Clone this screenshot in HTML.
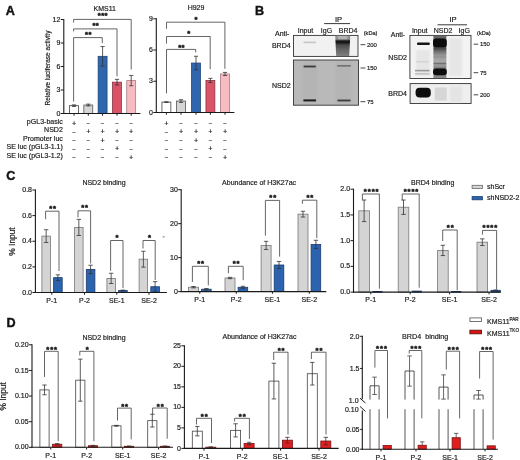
<!DOCTYPE html><html><head><meta charset="utf-8"><style>html,body{margin:0;padding:0;background:#fff;overflow:hidden;}svg{display:block;} text{stroke:#1a1a1a;stroke-width:0.18px;} text.L{stroke-width:0.45px;} text.S{stroke-width:0.5px;}</style></head><body>
<svg width="520" height="460" viewBox="0 0 520 460" font-family='"Liberation Sans", Arial, Helvetica, sans-serif'>
<rect width="520" height="460" fill="#fff"/>
<text x="5.8" y="14.7" font-size="12.6" font-weight="bold" fill="#111" class="L">A</text>
<text x="254.9" y="14.9" font-size="12.6" font-weight="bold" fill="#111" class="L">B</text>
<text x="6.2" y="179.9" font-size="12.6" font-weight="bold" fill="#111" class="L">C</text>
<text x="6.4" y="326.7" font-size="12.6" font-weight="bold" fill="#111" class="L">D</text>
<line x1="63.8" y1="114" x2="63.8" y2="19" stroke="#1a1a1a" stroke-width="1.1"/>
<line x1="60.8" y1="113.5" x2="63.8" y2="113.5" stroke="#1a1a1a" stroke-width="1.0"/>
<text x="60.4" y="115.6" font-size="7" text-anchor="end" fill="#1a1a1a">0</text>
<line x1="60.8" y1="90" x2="63.8" y2="90" stroke="#1a1a1a" stroke-width="1.0"/>
<text x="60.4" y="92.1" font-size="7" text-anchor="end" fill="#1a1a1a">3</text>
<line x1="60.8" y1="66.5" x2="63.8" y2="66.5" stroke="#1a1a1a" stroke-width="1.0"/>
<text x="60.4" y="68.6" font-size="7" text-anchor="end" fill="#1a1a1a">6</text>
<line x1="60.8" y1="43" x2="63.8" y2="43" stroke="#1a1a1a" stroke-width="1.0"/>
<text x="60.4" y="45.1" font-size="7" text-anchor="end" fill="#1a1a1a">9</text>
<line x1="60.8" y1="19.5" x2="63.8" y2="19.5" stroke="#1a1a1a" stroke-width="1.0"/>
<text x="60.4" y="21.6" font-size="7" text-anchor="end" fill="#1a1a1a">12</text>
<rect x="69.55" y="105.67" width="8.9" height="7.83" fill="#ffffff" stroke="#444" stroke-width="0.8"/>
<line x1="74" y1="104.88" x2="74" y2="106.45" stroke="#333" stroke-width="0.8"/>
<line x1="71.9" y1="104.88" x2="76.1" y2="104.88" stroke="#333" stroke-width="0.8"/>
<line x1="71.9" y1="106.45" x2="76.1" y2="106.45" stroke="#333" stroke-width="0.8"/>
<rect x="83.85" y="105.04" width="8.9" height="8.46" fill="#d6d6d6" stroke="#555" stroke-width="0.8"/>
<line x1="88.3" y1="104.1" x2="88.3" y2="105.98" stroke="#333" stroke-width="0.8"/>
<line x1="86.2" y1="104.1" x2="90.4" y2="104.1" stroke="#333" stroke-width="0.8"/>
<line x1="86.2" y1="105.98" x2="90.4" y2="105.98" stroke="#333" stroke-width="0.8"/>
<rect x="98.15" y="56.32" width="8.9" height="57.18" fill="#2f66ae" stroke="#1d4478" stroke-width="0.8"/>
<line x1="102.6" y1="46.52" x2="102.6" y2="66.11" stroke="#333" stroke-width="0.8"/>
<line x1="100.5" y1="46.52" x2="104.7" y2="46.52" stroke="#333" stroke-width="0.8"/>
<line x1="100.5" y1="66.11" x2="104.7" y2="66.11" stroke="#333" stroke-width="0.8"/>
<rect x="112.55" y="82.17" width="8.9" height="31.33" fill="#da5467" stroke="#8c3342" stroke-width="0.8"/>
<line x1="117" y1="79.35" x2="117" y2="84.99" stroke="#333" stroke-width="0.8"/>
<line x1="114.9" y1="79.35" x2="119.1" y2="79.35" stroke="#333" stroke-width="0.8"/>
<line x1="114.9" y1="84.99" x2="119.1" y2="84.99" stroke="#333" stroke-width="0.8"/>
<rect x="126.75" y="80.6" width="8.9" height="32.9" fill="#f7bcc2" stroke="#a87a80" stroke-width="0.8"/>
<line x1="131.2" y1="75.43" x2="131.2" y2="85.77" stroke="#333" stroke-width="0.8"/>
<line x1="129.1" y1="75.43" x2="133.3" y2="75.43" stroke="#333" stroke-width="0.8"/>
<line x1="129.1" y1="85.77" x2="133.3" y2="85.77" stroke="#333" stroke-width="0.8"/>
<line x1="63.25" y1="113.5" x2="140.4" y2="113.5" stroke="#1a1a1a" stroke-width="1.1"/>
<line x1="74" y1="113.5" x2="74" y2="115.7" stroke="#1a1a1a" stroke-width="1.0"/>
<line x1="88.3" y1="113.5" x2="88.3" y2="115.7" stroke="#1a1a1a" stroke-width="1.0"/>
<line x1="102.6" y1="113.5" x2="102.6" y2="115.7" stroke="#1a1a1a" stroke-width="1.0"/>
<line x1="117" y1="113.5" x2="117" y2="115.7" stroke="#1a1a1a" stroke-width="1.0"/>
<line x1="131.2" y1="113.5" x2="131.2" y2="115.7" stroke="#1a1a1a" stroke-width="1.0"/>
<text x="104.8" y="11" font-size="7" text-anchor="middle" fill="#1a1a1a">KMS11</text>
<polyline points="73.6,22.6 73.6,19.4 131.2,19.4 131.2,69.5" fill="none" stroke="#4a4a4a" stroke-width="0.85"/>
<text x="102.92" y="18.3" font-size="7.6" text-anchor="middle" font-weight="bold" fill="#1a1a1a" letter-spacing="0.45" class="S">***</text>
<polyline points="73.6,31.4 73.6,28.9 117,28.9 117,76.3" fill="none" stroke="#4a4a4a" stroke-width="0.85"/>
<text x="95.82" y="28.1" font-size="7.6" text-anchor="middle" font-weight="bold" fill="#1a1a1a" letter-spacing="0.45" class="S">**</text>
<polyline points="73.6,101.5 73.6,37.6 102.3,37.6 102.3,43.2" fill="none" stroke="#4a4a4a" stroke-width="0.85"/>
<text x="88.47" y="37.3" font-size="7.6" text-anchor="middle" font-weight="bold" fill="#1a1a1a" letter-spacing="0.45" class="S">**</text>
<line x1="156.3" y1="113" x2="156.3" y2="18.3" stroke="#1a1a1a" stroke-width="1.1"/>
<line x1="153.3" y1="112.5" x2="156.3" y2="112.5" stroke="#1a1a1a" stroke-width="1.0"/>
<text x="152.9" y="114.6" font-size="7" text-anchor="end" fill="#1a1a1a">0</text>
<line x1="153.3" y1="81.27" x2="156.3" y2="81.27" stroke="#1a1a1a" stroke-width="1.0"/>
<text x="152.9" y="83.37" font-size="7" text-anchor="end" fill="#1a1a1a">3</text>
<line x1="153.3" y1="50.03" x2="156.3" y2="50.03" stroke="#1a1a1a" stroke-width="1.0"/>
<text x="152.9" y="52.13" font-size="7" text-anchor="end" fill="#1a1a1a">6</text>
<line x1="153.3" y1="18.8" x2="156.3" y2="18.8" stroke="#1a1a1a" stroke-width="1.0"/>
<text x="152.9" y="20.9" font-size="7" text-anchor="end" fill="#1a1a1a">9</text>
<rect x="161.95" y="102.09" width="8.9" height="10.41" fill="#ffffff" stroke="#444" stroke-width="0.8"/>
<line x1="166.4" y1="101.78" x2="166.4" y2="102.4" stroke="#333" stroke-width="0.8"/>
<line x1="164.3" y1="101.78" x2="168.5" y2="101.78" stroke="#333" stroke-width="0.8"/>
<line x1="164.3" y1="102.4" x2="168.5" y2="102.4" stroke="#333" stroke-width="0.8"/>
<rect x="176.55" y="101.05" width="8.9" height="11.45" fill="#d6d6d6" stroke="#555" stroke-width="0.8"/>
<line x1="181" y1="99.69" x2="181" y2="102.4" stroke="#333" stroke-width="0.8"/>
<line x1="178.9" y1="99.69" x2="183.1" y2="99.69" stroke="#333" stroke-width="0.8"/>
<line x1="178.9" y1="102.4" x2="183.1" y2="102.4" stroke="#333" stroke-width="0.8"/>
<rect x="191.55" y="63.05" width="8.9" height="49.45" fill="#2f66ae" stroke="#1d4478" stroke-width="0.8"/>
<line x1="196" y1="56.28" x2="196" y2="69.81" stroke="#333" stroke-width="0.8"/>
<line x1="193.9" y1="56.28" x2="198.1" y2="56.28" stroke="#333" stroke-width="0.8"/>
<line x1="193.9" y1="69.81" x2="198.1" y2="69.81" stroke="#333" stroke-width="0.8"/>
<rect x="205.95" y="80.43" width="8.9" height="32.07" fill="#da5467" stroke="#8c3342" stroke-width="0.8"/>
<line x1="210.4" y1="78.35" x2="210.4" y2="82.52" stroke="#333" stroke-width="0.8"/>
<line x1="208.3" y1="78.35" x2="212.5" y2="78.35" stroke="#333" stroke-width="0.8"/>
<line x1="208.3" y1="82.52" x2="212.5" y2="82.52" stroke="#333" stroke-width="0.8"/>
<rect x="220.55" y="73.98" width="8.9" height="38.52" fill="#f7bcc2" stroke="#a87a80" stroke-width="0.8"/>
<line x1="225" y1="72.42" x2="225" y2="75.54" stroke="#333" stroke-width="0.8"/>
<line x1="222.9" y1="72.42" x2="227.1" y2="72.42" stroke="#333" stroke-width="0.8"/>
<line x1="222.9" y1="75.54" x2="227.1" y2="75.54" stroke="#333" stroke-width="0.8"/>
<line x1="155.75" y1="112.5" x2="234.4" y2="112.5" stroke="#1a1a1a" stroke-width="1.1"/>
<line x1="166.4" y1="112.5" x2="166.4" y2="114.7" stroke="#1a1a1a" stroke-width="1.0"/>
<line x1="181" y1="112.5" x2="181" y2="114.7" stroke="#1a1a1a" stroke-width="1.0"/>
<line x1="196" y1="112.5" x2="196" y2="114.7" stroke="#1a1a1a" stroke-width="1.0"/>
<line x1="210.4" y1="112.5" x2="210.4" y2="114.7" stroke="#1a1a1a" stroke-width="1.0"/>
<line x1="225" y1="112.5" x2="225" y2="114.7" stroke="#1a1a1a" stroke-width="1.0"/>
<text x="196" y="10.2" font-size="7" text-anchor="middle" fill="#1a1a1a">H929</text>
<polyline points="166.5,28.8 166.5,22.2 224.9,22.2 224.9,68.8" fill="none" stroke="#4a4a4a" stroke-width="0.85"/>
<text x="196.22" y="22.1" font-size="7.6" text-anchor="middle" font-weight="bold" fill="#1a1a1a" letter-spacing="0.45" class="S">*</text>
<polyline points="166.5,43.6 166.5,36.5 210.2,36.5 210.2,69.2" fill="none" stroke="#4a4a4a" stroke-width="0.85"/>
<text x="188.88" y="36" font-size="7.6" text-anchor="middle" font-weight="bold" fill="#1a1a1a" letter-spacing="0.45" class="S">*</text>
<polyline points="166.5,93.3 166.5,49.4 195.7,49.4 195.7,52.4" fill="none" stroke="#4a4a4a" stroke-width="0.85"/>
<text x="181.62" y="50.1" font-size="7.6" text-anchor="middle" font-weight="bold" fill="#1a1a1a" letter-spacing="0.45" class="S">**</text>
<text x="47.6" y="68" font-size="6.5" text-anchor="middle" fill="#1a1a1a" transform="rotate(-90 47.6 68.0)" dy="2.3">Relative luciferase activity</text>
<text x="62.9" y="124" font-size="7.05" text-anchor="end" fill="#1a1a1a">pGL3-basic</text>
<text x="74" y="125.75" font-size="7.2" text-anchor="middle" fill="#1a1a1a">+</text>
<text x="88.3" y="125.4" font-size="6.0" text-anchor="middle" fill="#1a1a1a">&#8722;</text>
<text x="102.6" y="125.4" font-size="6.0" text-anchor="middle" fill="#1a1a1a">&#8722;</text>
<text x="117" y="125.4" font-size="6.0" text-anchor="middle" fill="#1a1a1a">&#8722;</text>
<text x="131.2" y="125.4" font-size="6.0" text-anchor="middle" fill="#1a1a1a">&#8722;</text>
<text x="166.4" y="125.75" font-size="7.2" text-anchor="middle" fill="#1a1a1a">+</text>
<text x="181" y="125.4" font-size="6.0" text-anchor="middle" fill="#1a1a1a">&#8722;</text>
<text x="196" y="125.4" font-size="6.0" text-anchor="middle" fill="#1a1a1a">&#8722;</text>
<text x="210.4" y="125.4" font-size="6.0" text-anchor="middle" fill="#1a1a1a">&#8722;</text>
<text x="225" y="125.4" font-size="6.0" text-anchor="middle" fill="#1a1a1a">&#8722;</text>
<text x="62.9" y="132.45" font-size="7.05" text-anchor="end" fill="#1a1a1a">NSD2</text>
<text x="74" y="133.85" font-size="6.0" text-anchor="middle" fill="#1a1a1a">&#8722;</text>
<text x="88.3" y="134.2" font-size="7.2" text-anchor="middle" fill="#1a1a1a">+</text>
<text x="102.6" y="134.2" font-size="7.2" text-anchor="middle" fill="#1a1a1a">+</text>
<text x="117" y="134.2" font-size="7.2" text-anchor="middle" fill="#1a1a1a">+</text>
<text x="131.2" y="134.2" font-size="7.2" text-anchor="middle" fill="#1a1a1a">+</text>
<text x="166.4" y="133.85" font-size="6.0" text-anchor="middle" fill="#1a1a1a">&#8722;</text>
<text x="181" y="134.2" font-size="7.2" text-anchor="middle" fill="#1a1a1a">+</text>
<text x="196" y="134.2" font-size="7.2" text-anchor="middle" fill="#1a1a1a">+</text>
<text x="210.4" y="134.2" font-size="7.2" text-anchor="middle" fill="#1a1a1a">+</text>
<text x="225" y="134.2" font-size="7.2" text-anchor="middle" fill="#1a1a1a">+</text>
<text x="62.9" y="140.9" font-size="7.05" text-anchor="end" fill="#1a1a1a">Promoter luc</text>
<text x="74" y="142.3" font-size="6.0" text-anchor="middle" fill="#1a1a1a">&#8722;</text>
<text x="88.3" y="142.3" font-size="6.0" text-anchor="middle" fill="#1a1a1a">&#8722;</text>
<text x="102.6" y="142.65" font-size="7.2" text-anchor="middle" fill="#1a1a1a">+</text>
<text x="117" y="142.3" font-size="6.0" text-anchor="middle" fill="#1a1a1a">&#8722;</text>
<text x="131.2" y="142.3" font-size="6.0" text-anchor="middle" fill="#1a1a1a">&#8722;</text>
<text x="166.4" y="142.3" font-size="6.0" text-anchor="middle" fill="#1a1a1a">&#8722;</text>
<text x="181" y="142.3" font-size="6.0" text-anchor="middle" fill="#1a1a1a">&#8722;</text>
<text x="196" y="142.65" font-size="7.2" text-anchor="middle" fill="#1a1a1a">+</text>
<text x="210.4" y="142.3" font-size="6.0" text-anchor="middle" fill="#1a1a1a">&#8722;</text>
<text x="225" y="142.3" font-size="6.0" text-anchor="middle" fill="#1a1a1a">&#8722;</text>
<text x="62.9" y="149.35" font-size="7.05" text-anchor="end" fill="#1a1a1a">SE luc (pGL3-1.1)</text>
<text x="74" y="150.75" font-size="6.0" text-anchor="middle" fill="#1a1a1a">&#8722;</text>
<text x="88.3" y="150.75" font-size="6.0" text-anchor="middle" fill="#1a1a1a">&#8722;</text>
<text x="102.6" y="150.75" font-size="6.0" text-anchor="middle" fill="#1a1a1a">&#8722;</text>
<text x="117" y="151.1" font-size="7.2" text-anchor="middle" fill="#1a1a1a">+</text>
<text x="131.2" y="150.75" font-size="6.0" text-anchor="middle" fill="#1a1a1a">&#8722;</text>
<text x="166.4" y="150.75" font-size="6.0" text-anchor="middle" fill="#1a1a1a">&#8722;</text>
<text x="181" y="150.75" font-size="6.0" text-anchor="middle" fill="#1a1a1a">&#8722;</text>
<text x="196" y="150.75" font-size="6.0" text-anchor="middle" fill="#1a1a1a">&#8722;</text>
<text x="210.4" y="151.1" font-size="7.2" text-anchor="middle" fill="#1a1a1a">+</text>
<text x="225" y="150.75" font-size="6.0" text-anchor="middle" fill="#1a1a1a">&#8722;</text>
<text x="62.9" y="157.8" font-size="7.05" text-anchor="end" fill="#1a1a1a">SE luc (pGL3-1.2)</text>
<text x="74" y="159.2" font-size="6.0" text-anchor="middle" fill="#1a1a1a">&#8722;</text>
<text x="88.3" y="159.2" font-size="6.0" text-anchor="middle" fill="#1a1a1a">&#8722;</text>
<text x="102.6" y="159.2" font-size="6.0" text-anchor="middle" fill="#1a1a1a">&#8722;</text>
<text x="117" y="159.2" font-size="6.0" text-anchor="middle" fill="#1a1a1a">&#8722;</text>
<text x="131.2" y="159.55" font-size="7.2" text-anchor="middle" fill="#1a1a1a">+</text>
<text x="166.4" y="159.2" font-size="6.0" text-anchor="middle" fill="#1a1a1a">&#8722;</text>
<text x="181" y="159.2" font-size="6.0" text-anchor="middle" fill="#1a1a1a">&#8722;</text>
<text x="196" y="159.2" font-size="6.0" text-anchor="middle" fill="#1a1a1a">&#8722;</text>
<text x="210.4" y="159.2" font-size="6.0" text-anchor="middle" fill="#1a1a1a">&#8722;</text>
<text x="225" y="159.55" font-size="7.2" text-anchor="middle" fill="#1a1a1a">+</text>
<defs>
<filter id="bl1" x="-50%" y="-50%" width="200%" height="200%"><feGaussianBlur stdDeviation="0.7"/></filter>
<filter id="bl2" x="-50%" y="-50%" width="200%" height="200%"><feGaussianBlur stdDeviation="1.2"/></filter>
<filter id="bl05" x="-50%" y="-50%" width="200%" height="200%"><feGaussianBlur stdDeviation="0.45"/></filter>
<linearGradient id="smearL" x1="0" y1="0" x2="0" y2="1"><stop offset="0" stop-color="#9a9a9a"/><stop offset="0.17" stop-color="#8a8a8a"/><stop offset="0.26" stop-color="#141414"/><stop offset="0.34" stop-color="#1a1a1a"/><stop offset="0.45" stop-color="#4a4a4a"/><stop offset="0.7" stop-color="#676767"/><stop offset="1" stop-color="#7e7e7e"/></linearGradient>
<linearGradient id="smearR" x1="0" y1="0" x2="0" y2="1"><stop offset="0" stop-color="#8a8a8a"/><stop offset="0.12" stop-color="#444"/><stop offset="0.2" stop-color="#111"/><stop offset="0.3" stop-color="#333"/><stop offset="0.4" stop-color="#888"/><stop offset="0.6" stop-color="#999"/><stop offset="0.7" stop-color="#666"/><stop offset="0.78" stop-color="#222"/><stop offset="0.9" stop-color="#111"/><stop offset="1" stop-color="#888"/></linearGradient>
</defs>
<text x="282.2" y="36.0" font-size="7" fill="#1a1a1a" text-anchor="middle">Anti-</text>
<text x="281.3" y="47.9" font-size="7" fill="#1a1a1a" text-anchor="middle">BRD4</text>
<text x="281.3" y="88.3" font-size="7" fill="#1a1a1a" text-anchor="middle">NSD2</text>
<text x="305.5" y="32.6" font-size="7" fill="#1a1a1a" text-anchor="middle">Input</text>
<text x="326.5" y="32.6" font-size="7" fill="#1a1a1a" text-anchor="middle">IgG</text>
<text x="348.2" y="32.6" font-size="7" fill="#1a1a1a" text-anchor="middle">BRD4</text>
<text x="338.5" y="21.5" font-size="7.6" fill="#1a1a1a" text-anchor="middle">IP</text>
<line x1="324.1" y1="23.6" x2="350.1" y2="23.6" stroke="#222" stroke-width="0.9"/>
<text x="370.6" y="34.9" font-size="5.6" fill="#1a1a1a" text-anchor="middle">(kDa)</text>
<rect x="293.5" y="35.4" width="64.5" height="21.0" fill="#f1f1f1" stroke="#333" stroke-width="0.9"/>
<rect x="303.5" y="41.6" width="12.5" height="1.6" fill="#c4c4c4" filter="url(#bl05)"/>
<path d="M335.2,35.8 L350.3,35.8 L349.2,56.0 L336.2,56.0 Z" fill="url(#smearL)" filter="url(#bl05)"/>
<rect x="338.2" y="36.0" width="9" height="3.2" fill="#bdbdbd" filter="url(#bl05)" opacity="0.8"/>
<rect x="293.5" y="60.0" width="65.0" height="45.2" fill="#b9b9b9" stroke="#333" stroke-width="0.9"/>
<rect x="302" y="62" width="15" height="41" fill="#b0b0b0" filter="url(#bl2)" opacity="0.5"/>
<rect x="336" y="62" width="15" height="41" fill="#b0b0b0" filter="url(#bl2)" opacity="0.5"/>
<rect x="303.6" y="65.6" width="12.2" height="1.8" fill="#3a3a3a" filter="url(#bl05)"/>
<rect x="337.2" y="65.0" width="13.6" height="1.6" fill="#707070" filter="url(#bl05)"/>
<rect x="303.4" y="99.4" width="12.6" height="2.0" fill="#1e1e1e" filter="url(#bl05)"/>
<rect x="337.4" y="99.6" width="13.2" height="1.8" fill="#3a3a3a" filter="url(#bl05)"/>
<line x1="360.5" y1="44.7" x2="365.4" y2="44.7" stroke="#333" stroke-width="0.9"/>
<text x="366.9" y="46.800000000000004" font-size="6" fill="#1a1a1a">200</text>
<line x1="360.5" y1="68.0" x2="365.4" y2="68.0" stroke="#333" stroke-width="0.9"/>
<text x="366.9" y="70.1" font-size="6" fill="#1a1a1a">150</text>
<line x1="360.5" y1="101.7" x2="365.4" y2="101.7" stroke="#333" stroke-width="0.9"/>
<text x="366.9" y="103.8" font-size="6" fill="#1a1a1a">75</text>
<text x="398.0" y="37.2" font-size="7" fill="#1a1a1a" text-anchor="middle">Anti-</text>
<text x="397.5" y="59.8" font-size="7" fill="#1a1a1a" text-anchor="middle">NSD2</text>
<text x="397.7" y="95.8" font-size="7" fill="#1a1a1a" text-anchor="middle">BRD4</text>
<text x="419.7" y="32.8" font-size="7" fill="#1a1a1a" text-anchor="middle">Input</text>
<text x="443.0" y="32.8" font-size="7" fill="#1a1a1a" text-anchor="middle">NSD2</text>
<text x="464.2" y="32.8" font-size="7" fill="#1a1a1a" text-anchor="middle">IgG</text>
<text x="453.0" y="22.3" font-size="7.6" fill="#1a1a1a" text-anchor="middle">IP</text>
<line x1="437.5" y1="24.8" x2="467.1" y2="24.8" stroke="#222" stroke-width="0.9"/>
<text x="483.9" y="35.2" font-size="5.6" fill="#1a1a1a" text-anchor="middle">(kDa)</text>
<rect x="409.9" y="35.4" width="61.1" height="43.1" fill="#f3f3f3" stroke="#333" stroke-width="0.9"/>
<rect x="449" y="38" width="13" height="38" fill="#e6e6e6" filter="url(#bl2)"/>
<rect x="416" y="50" width="14" height="26" fill="#e6e6e6" filter="url(#bl2)"/>
<rect x="417.0" y="42.5" width="12.8" height="2.6" rx="1" fill="#151515" filter="url(#bl05)"/>
<rect x="415.0" y="69.8" width="14.6" height="1.6" fill="#9a9a9a" filter="url(#bl05)"/>
<rect x="415.0" y="73.2" width="14.6" height="1.4" fill="#bdbdbd" filter="url(#bl05)"/>
<rect x="416.0" y="61.2" width="13" height="1.2" fill="#d0d0d0" filter="url(#bl05)"/>
<linearGradient id="laneN" x1="0" y1="0" x2="0" y2="1"><stop offset="0" stop-color="#6a6a6a"/><stop offset="0.3" stop-color="#4a4a4a"/><stop offset="0.42" stop-color="#8a8a8a"/><stop offset="0.5" stop-color="#a0a0a0"/><stop offset="0.62" stop-color="#a8a8a8"/><stop offset="0.655" stop-color="#707070"/><stop offset="0.69" stop-color="#a0a0a0"/><stop offset="0.78" stop-color="#777"/><stop offset="1" stop-color="#8a8a8a"/></linearGradient>
<rect x="433.4" y="36.0" width="13.0" height="42.0" fill="url(#laneN)" filter="url(#bl05)"/>
<rect x="433.6" y="52.5" width="12.6" height="1.0" fill="#808080" filter="url(#bl05)"/>
<rect x="433.6" y="56.5" width="12.6" height="1.0" fill="#8a8a8a" filter="url(#bl05)"/>
<rect x="433.0" y="38.4" width="13.8" height="8.8" rx="3.2" fill="#0c0c0c" filter="url(#bl05)"/>
<rect x="433.0" y="68.6" width="13.8" height="6.6" rx="3" fill="#0c0c0c" filter="url(#bl05)"/>
<rect x="410.1" y="83.6" width="61.0" height="19.9" fill="#efefef" stroke="#333" stroke-width="0.9"/>
<rect x="434.8" y="87.5" width="12" height="13" fill="#d6d6d6" filter="url(#bl1)"/>
<rect x="450" y="86" width="12" height="16" fill="#e4e4e4" filter="url(#bl2)"/>
<rect x="415.6" y="87.8" width="15.2" height="9.6" rx="4" fill="#0c0c0c" filter="url(#bl05)"/>
<line x1="473.6" y1="44.2" x2="478.2" y2="44.2" stroke="#333" stroke-width="0.9"/>
<text x="479.9" y="46.300000000000004" font-size="6" fill="#1a1a1a">150</text>
<line x1="473.6" y1="72.7" x2="478.2" y2="72.7" stroke="#333" stroke-width="0.9"/>
<text x="479.9" y="74.8" font-size="6" fill="#1a1a1a">75</text>
<line x1="473.6" y1="94.8" x2="478.2" y2="94.8" stroke="#333" stroke-width="0.9"/>
<text x="479.9" y="96.89999999999999" font-size="6" fill="#1a1a1a">200</text>
<line x1="35.4" y1="293" x2="35.4" y2="189.5" stroke="#1a1a1a" stroke-width="1.1"/>
<line x1="32.4" y1="292.5" x2="35.4" y2="292.5" stroke="#1a1a1a" stroke-width="1.0"/>
<text x="32" y="294.6" font-size="7" text-anchor="end" fill="#1a1a1a">0.0</text>
<line x1="32.4" y1="266.88" x2="35.4" y2="266.88" stroke="#1a1a1a" stroke-width="1.0"/>
<text x="32" y="268.98" font-size="7" text-anchor="end" fill="#1a1a1a">0.2</text>
<line x1="32.4" y1="241.25" x2="35.4" y2="241.25" stroke="#1a1a1a" stroke-width="1.0"/>
<text x="32" y="243.35" font-size="7" text-anchor="end" fill="#1a1a1a">0.4</text>
<line x1="32.4" y1="215.62" x2="35.4" y2="215.62" stroke="#1a1a1a" stroke-width="1.0"/>
<text x="32" y="217.72" font-size="7" text-anchor="end" fill="#1a1a1a">0.6</text>
<line x1="32.4" y1="190" x2="35.4" y2="190" stroke="#1a1a1a" stroke-width="1.0"/>
<text x="32" y="192.1" font-size="7" text-anchor="end" fill="#1a1a1a">0.8</text>
<rect x="41.9" y="236.12" width="8.5" height="56.38" fill="#d4d4d4" stroke="#777" stroke-width="0.8"/>
<line x1="46.15" y1="229.72" x2="46.15" y2="242.53" stroke="#333" stroke-width="0.8"/>
<line x1="43.95" y1="229.72" x2="48.35" y2="229.72" stroke="#333" stroke-width="0.8"/>
<line x1="43.95" y1="242.53" x2="48.35" y2="242.53" stroke="#333" stroke-width="0.8"/>
<rect x="53.6" y="277.64" width="8.6" height="14.86" fill="#2c63ae" stroke="#173a6c" stroke-width="0.8"/>
<line x1="57.9" y1="274.82" x2="57.9" y2="280.46" stroke="#333" stroke-width="0.8"/>
<line x1="55.7" y1="274.82" x2="60.1" y2="274.82" stroke="#333" stroke-width="0.8"/>
<line x1="55.7" y1="280.46" x2="60.1" y2="280.46" stroke="#333" stroke-width="0.8"/>
<rect x="74.6" y="227.41" width="8.5" height="65.09" fill="#d4d4d4" stroke="#777" stroke-width="0.8"/>
<line x1="78.85" y1="219.34" x2="78.85" y2="235.48" stroke="#333" stroke-width="0.8"/>
<line x1="76.65" y1="219.34" x2="81.05" y2="219.34" stroke="#333" stroke-width="0.8"/>
<line x1="76.65" y1="235.48" x2="81.05" y2="235.48" stroke="#333" stroke-width="0.8"/>
<rect x="86.3" y="269.44" width="8.6" height="23.06" fill="#2c63ae" stroke="#173a6c" stroke-width="0.8"/>
<line x1="90.6" y1="265.21" x2="90.6" y2="273.67" stroke="#333" stroke-width="0.8"/>
<line x1="88.4" y1="265.21" x2="92.8" y2="265.21" stroke="#333" stroke-width="0.8"/>
<line x1="88.4" y1="273.67" x2="92.8" y2="273.67" stroke="#333" stroke-width="0.8"/>
<rect x="106.9" y="278.41" width="8.5" height="14.09" fill="#d4d4d4" stroke="#777" stroke-width="0.8"/>
<line x1="111.15" y1="273.28" x2="111.15" y2="283.53" stroke="#333" stroke-width="0.8"/>
<line x1="108.95" y1="273.28" x2="113.35" y2="273.28" stroke="#333" stroke-width="0.8"/>
<line x1="108.95" y1="283.53" x2="113.35" y2="283.53" stroke="#333" stroke-width="0.8"/>
<rect x="118.6" y="290.58" width="8.6" height="1.92" fill="#2c63ae" stroke="#173a6c" stroke-width="0.8"/>
<line x1="122.9" y1="290.07" x2="122.9" y2="291.09" stroke="#333" stroke-width="0.8"/>
<line x1="120.7" y1="290.07" x2="125.1" y2="290.07" stroke="#333" stroke-width="0.8"/>
<line x1="120.7" y1="291.09" x2="125.1" y2="291.09" stroke="#333" stroke-width="0.8"/>
<rect x="139.1" y="259.19" width="8.5" height="33.31" fill="#d4d4d4" stroke="#777" stroke-width="0.8"/>
<line x1="143.35" y1="251.24" x2="143.35" y2="267.13" stroke="#333" stroke-width="0.8"/>
<line x1="141.15" y1="251.24" x2="145.55" y2="251.24" stroke="#333" stroke-width="0.8"/>
<line x1="141.15" y1="267.13" x2="145.55" y2="267.13" stroke="#333" stroke-width="0.8"/>
<rect x="150.8" y="286.73" width="8.6" height="5.77" fill="#2c63ae" stroke="#173a6c" stroke-width="0.8"/>
<line x1="155.1" y1="281.61" x2="155.1" y2="291.86" stroke="#333" stroke-width="0.8"/>
<line x1="152.9" y1="281.61" x2="157.3" y2="281.61" stroke="#333" stroke-width="0.8"/>
<line x1="152.9" y1="291.86" x2="157.3" y2="291.86" stroke="#333" stroke-width="0.8"/>
<line x1="34.85" y1="292.5" x2="166.9" y2="292.5" stroke="#1a1a1a" stroke-width="1.1"/>
<line x1="51.8" y1="292.5" x2="51.8" y2="294.7" stroke="#1a1a1a" stroke-width="1.0"/>
<line x1="84.5" y1="292.5" x2="84.5" y2="294.7" stroke="#1a1a1a" stroke-width="1.0"/>
<line x1="116.8" y1="292.5" x2="116.8" y2="294.7" stroke="#1a1a1a" stroke-width="1.0"/>
<line x1="149" y1="292.5" x2="149" y2="294.7" stroke="#1a1a1a" stroke-width="1.0"/>
<text x="51.8" y="302.8" font-size="7" text-anchor="middle" fill="#1a1a1a">P-1</text>
<text x="84.5" y="302.8" font-size="7" text-anchor="middle" fill="#1a1a1a">P-2</text>
<text x="116.8" y="302.8" font-size="7" text-anchor="middle" fill="#1a1a1a">SE-1</text>
<text x="149" y="302.8" font-size="7" text-anchor="middle" fill="#1a1a1a">SE-2</text>
<text x="104" y="185.4" font-size="7" text-anchor="middle" fill="#1a1a1a">NSD2 binding</text>
<polyline points="45.6,219.2 45.6,211.2 59,211.2 59,271" fill="none" stroke="#4a4a4a" stroke-width="0.85"/>
<text x="53.07" y="210.7" font-size="7.6" text-anchor="middle" font-weight="bold" fill="#1a1a1a" letter-spacing="0.95" class="S">**</text>
<polyline points="78,217.3 78,210.8 90.6,210.8 90.6,263.5" fill="none" stroke="#4a4a4a" stroke-width="0.85"/>
<text x="85.07" y="210.3" font-size="7.6" text-anchor="middle" font-weight="bold" fill="#1a1a1a" letter-spacing="0.95" class="S">**</text>
<polyline points="110.6,270.8 110.6,240.5 123,240.5 123,288" fill="none" stroke="#4a4a4a" stroke-width="0.85"/>
<text x="117.57" y="240" font-size="7.6" text-anchor="middle" font-weight="bold" fill="#1a1a1a" letter-spacing="0.95" class="S">*</text>
<polyline points="143,248.5 143,240.5 155.2,240.5 155.2,280" fill="none" stroke="#4a4a4a" stroke-width="0.85"/>
<text x="149.88" y="240" font-size="7.6" text-anchor="middle" font-weight="bold" fill="#1a1a1a" letter-spacing="0.95" class="S">*</text>
<text x="11.7" y="241.5" font-size="8.4" text-anchor="middle" fill="#1a1a1a" transform="rotate(-90 11.7 241.5)" dy="2.9">% Input</text>
<line x1="162.8" y1="236.9" x2="164.6" y2="236.9" stroke="#444" stroke-width="0.8"/>
<line x1="181.2" y1="292.1" x2="181.2" y2="189.2" stroke="#1a1a1a" stroke-width="1.1"/>
<line x1="178.2" y1="291.6" x2="181.2" y2="291.6" stroke="#1a1a1a" stroke-width="1.0"/>
<text x="177.8" y="293.7" font-size="7" text-anchor="end" fill="#1a1a1a">0</text>
<line x1="178.2" y1="257.63" x2="181.2" y2="257.63" stroke="#1a1a1a" stroke-width="1.0"/>
<text x="177.8" y="259.73" font-size="7" text-anchor="end" fill="#1a1a1a">10</text>
<line x1="178.2" y1="223.67" x2="181.2" y2="223.67" stroke="#1a1a1a" stroke-width="1.0"/>
<text x="177.8" y="225.77" font-size="7" text-anchor="end" fill="#1a1a1a">20</text>
<line x1="178.2" y1="189.7" x2="181.2" y2="189.7" stroke="#1a1a1a" stroke-width="1.0"/>
<text x="177.8" y="191.8" font-size="7" text-anchor="end" fill="#1a1a1a">30</text>
<rect x="188.5" y="287.18" width="10" height="4.42" fill="#d4d4d4" stroke="#777" stroke-width="0.8"/>
<line x1="193.5" y1="286.5" x2="193.5" y2="287.86" stroke="#333" stroke-width="0.8"/>
<line x1="191.3" y1="286.5" x2="195.7" y2="286.5" stroke="#333" stroke-width="0.8"/>
<line x1="191.3" y1="287.86" x2="195.7" y2="287.86" stroke="#333" stroke-width="0.8"/>
<rect x="201.6" y="289.22" width="9.6" height="2.38" fill="#2c63ae" stroke="#173a6c" stroke-width="0.8"/>
<line x1="206.4" y1="288.54" x2="206.4" y2="289.9" stroke="#333" stroke-width="0.8"/>
<line x1="204.2" y1="288.54" x2="208.6" y2="288.54" stroke="#333" stroke-width="0.8"/>
<line x1="204.2" y1="289.9" x2="208.6" y2="289.9" stroke="#333" stroke-width="0.8"/>
<rect x="225" y="278.01" width="10" height="13.59" fill="#d4d4d4" stroke="#777" stroke-width="0.8"/>
<line x1="230" y1="277.33" x2="230" y2="278.69" stroke="#333" stroke-width="0.8"/>
<line x1="227.8" y1="277.33" x2="232.2" y2="277.33" stroke="#333" stroke-width="0.8"/>
<line x1="227.8" y1="278.69" x2="232.2" y2="278.69" stroke="#333" stroke-width="0.8"/>
<rect x="238.1" y="287.29" width="9.6" height="4.31" fill="#2c63ae" stroke="#173a6c" stroke-width="0.8"/>
<line x1="242.9" y1="286.27" x2="242.9" y2="288.31" stroke="#333" stroke-width="0.8"/>
<line x1="240.7" y1="286.27" x2="245.1" y2="286.27" stroke="#333" stroke-width="0.8"/>
<line x1="240.7" y1="288.31" x2="245.1" y2="288.31" stroke="#333" stroke-width="0.8"/>
<rect x="261.1" y="245.41" width="10" height="46.19" fill="#d4d4d4" stroke="#777" stroke-width="0.8"/>
<line x1="266.1" y1="241.33" x2="266.1" y2="249.48" stroke="#333" stroke-width="0.8"/>
<line x1="263.9" y1="241.33" x2="268.3" y2="241.33" stroke="#333" stroke-width="0.8"/>
<line x1="263.9" y1="249.48" x2="268.3" y2="249.48" stroke="#333" stroke-width="0.8"/>
<rect x="274.2" y="265" width="9.6" height="26.6" fill="#2c63ae" stroke="#173a6c" stroke-width="0.8"/>
<line x1="279" y1="261.44" x2="279" y2="268.57" stroke="#333" stroke-width="0.8"/>
<line x1="276.8" y1="261.44" x2="281.2" y2="261.44" stroke="#333" stroke-width="0.8"/>
<line x1="276.8" y1="268.57" x2="281.2" y2="268.57" stroke="#333" stroke-width="0.8"/>
<rect x="298" y="214.16" width="10" height="77.44" fill="#d4d4d4" stroke="#777" stroke-width="0.8"/>
<line x1="303" y1="211.27" x2="303" y2="217.04" stroke="#333" stroke-width="0.8"/>
<line x1="300.8" y1="211.27" x2="305.2" y2="211.27" stroke="#333" stroke-width="0.8"/>
<line x1="300.8" y1="217.04" x2="305.2" y2="217.04" stroke="#333" stroke-width="0.8"/>
<rect x="311.1" y="244.39" width="9.6" height="47.21" fill="#2c63ae" stroke="#173a6c" stroke-width="0.8"/>
<line x1="315.9" y1="240.31" x2="315.9" y2="248.46" stroke="#333" stroke-width="0.8"/>
<line x1="313.7" y1="240.31" x2="318.1" y2="240.31" stroke="#333" stroke-width="0.8"/>
<line x1="313.7" y1="248.46" x2="318.1" y2="248.46" stroke="#333" stroke-width="0.8"/>
<line x1="180.65" y1="291.6" x2="326.3" y2="291.6" stroke="#1a1a1a" stroke-width="1.1"/>
<line x1="199.8" y1="291.6" x2="199.8" y2="293.8" stroke="#1a1a1a" stroke-width="1.0"/>
<line x1="236.3" y1="291.6" x2="236.3" y2="293.8" stroke="#1a1a1a" stroke-width="1.0"/>
<line x1="272.4" y1="291.6" x2="272.4" y2="293.8" stroke="#1a1a1a" stroke-width="1.0"/>
<line x1="309.3" y1="291.6" x2="309.3" y2="293.8" stroke="#1a1a1a" stroke-width="1.0"/>
<text x="199.8" y="301.9" font-size="7" text-anchor="middle" fill="#1a1a1a">P-1</text>
<text x="236.3" y="301.9" font-size="7" text-anchor="middle" fill="#1a1a1a">P-2</text>
<text x="272.4" y="301.9" font-size="7" text-anchor="middle" fill="#1a1a1a">SE-1</text>
<text x="309.3" y="301.9" font-size="7" text-anchor="middle" fill="#1a1a1a">SE-2</text>
<text x="259.1" y="185.4" font-size="7" text-anchor="middle" fill="#1a1a1a">Abundance of H3K27ac</text>
<polyline points="192.4,282 192.4,266.3 208.3,266.3 208.3,285.4" fill="none" stroke="#4a4a4a" stroke-width="0.85"/>
<text x="201.13" y="265.8" font-size="7.6" text-anchor="middle" font-weight="bold" fill="#1a1a1a" letter-spacing="0.95" class="S">**</text>
<polyline points="228.4,273.3 228.4,266.3 243.2,266.3 243.2,280.2" fill="none" stroke="#4a4a4a" stroke-width="0.85"/>
<text x="236.58" y="265.8" font-size="7.6" text-anchor="middle" font-weight="bold" fill="#1a1a1a" letter-spacing="0.95" class="S">**</text>
<polyline points="265.4,235.6 265.4,200.4 279.6,200.4 279.6,256.6" fill="none" stroke="#4a4a4a" stroke-width="0.85"/>
<text x="273.28" y="199.9" font-size="7.6" text-anchor="middle" font-weight="bold" fill="#1a1a1a" letter-spacing="0.95" class="S">**</text>
<polyline points="302.4,203.7 302.4,200.2 316.8,200.2 316.8,238.2" fill="none" stroke="#4a4a4a" stroke-width="0.85"/>
<text x="310.38" y="199.7" font-size="7.6" text-anchor="middle" font-weight="bold" fill="#1a1a1a" letter-spacing="0.95" class="S">**</text>
<line x1="353.5" y1="292.6" x2="353.5" y2="188.7" stroke="#1a1a1a" stroke-width="1.1"/>
<line x1="350.5" y1="292.1" x2="353.5" y2="292.1" stroke="#1a1a1a" stroke-width="1.0"/>
<text x="350.1" y="294.2" font-size="7" text-anchor="end" fill="#1a1a1a">0.0</text>
<line x1="350.5" y1="266.38" x2="353.5" y2="266.38" stroke="#1a1a1a" stroke-width="1.0"/>
<text x="350.1" y="268.48" font-size="7" text-anchor="end" fill="#1a1a1a">0.5</text>
<line x1="350.5" y1="240.65" x2="353.5" y2="240.65" stroke="#1a1a1a" stroke-width="1.0"/>
<text x="350.1" y="242.75" font-size="7" text-anchor="end" fill="#1a1a1a">1.0</text>
<line x1="350.5" y1="214.93" x2="353.5" y2="214.93" stroke="#1a1a1a" stroke-width="1.0"/>
<text x="350.1" y="217.03" font-size="7" text-anchor="end" fill="#1a1a1a">1.5</text>
<line x1="350.5" y1="189.2" x2="353.5" y2="189.2" stroke="#1a1a1a" stroke-width="1.0"/>
<text x="350.1" y="191.3" font-size="7" text-anchor="end" fill="#1a1a1a">2.0</text>
<rect x="358.8" y="210.81" width="10.6" height="81.29" fill="#d4d4d4" stroke="#777" stroke-width="0.8"/>
<line x1="364.1" y1="200" x2="364.1" y2="221.61" stroke="#333" stroke-width="0.8"/>
<line x1="361.9" y1="200" x2="366.3" y2="200" stroke="#333" stroke-width="0.8"/>
<line x1="361.9" y1="221.61" x2="366.3" y2="221.61" stroke="#333" stroke-width="0.8"/>
<rect x="372.8" y="291.48" width="9.3" height="0.62" fill="#2c63ae" stroke="#173a6c" stroke-width="0.8"/>
<rect x="398.2" y="207.21" width="10.6" height="84.89" fill="#d4d4d4" stroke="#777" stroke-width="0.8"/>
<line x1="403.5" y1="200" x2="403.5" y2="214.41" stroke="#333" stroke-width="0.8"/>
<line x1="401.3" y1="200" x2="405.7" y2="200" stroke="#333" stroke-width="0.8"/>
<line x1="401.3" y1="214.41" x2="405.7" y2="214.41" stroke="#333" stroke-width="0.8"/>
<rect x="412.2" y="291.07" width="9.3" height="1.03" fill="#2c63ae" stroke="#173a6c" stroke-width="0.8"/>
<rect x="437.6" y="250.43" width="10.6" height="41.67" fill="#d4d4d4" stroke="#777" stroke-width="0.8"/>
<line x1="442.9" y1="245.28" x2="442.9" y2="255.57" stroke="#333" stroke-width="0.8"/>
<line x1="440.7" y1="245.28" x2="445.1" y2="245.28" stroke="#333" stroke-width="0.8"/>
<line x1="440.7" y1="255.57" x2="445.1" y2="255.57" stroke="#333" stroke-width="0.8"/>
<rect x="451.6" y="291.48" width="9.3" height="0.62" fill="#2c63ae" stroke="#173a6c" stroke-width="0.8"/>
<rect x="477" y="242.19" width="10.6" height="49.91" fill="#d4d4d4" stroke="#777" stroke-width="0.8"/>
<line x1="482.3" y1="238.85" x2="482.3" y2="245.54" stroke="#333" stroke-width="0.8"/>
<line x1="480.1" y1="238.85" x2="484.5" y2="238.85" stroke="#333" stroke-width="0.8"/>
<line x1="480.1" y1="245.54" x2="484.5" y2="245.54" stroke="#333" stroke-width="0.8"/>
<rect x="491" y="290.3" width="9.3" height="1.8" fill="#2c63ae" stroke="#173a6c" stroke-width="0.8"/>
<line x1="495.65" y1="290.04" x2="495.65" y2="290.56" stroke="#333" stroke-width="0.8"/>
<line x1="493.45" y1="290.04" x2="497.85" y2="290.04" stroke="#333" stroke-width="0.8"/>
<line x1="493.45" y1="290.56" x2="497.85" y2="290.56" stroke="#333" stroke-width="0.8"/>
<line x1="352.95" y1="292.1" x2="500.8" y2="292.1" stroke="#1a1a1a" stroke-width="1.1"/>
<line x1="370.8" y1="292.1" x2="370.8" y2="294.3" stroke="#1a1a1a" stroke-width="1.0"/>
<line x1="410.2" y1="292.1" x2="410.2" y2="294.3" stroke="#1a1a1a" stroke-width="1.0"/>
<line x1="449.6" y1="292.1" x2="449.6" y2="294.3" stroke="#1a1a1a" stroke-width="1.0"/>
<line x1="489" y1="292.1" x2="489" y2="294.3" stroke="#1a1a1a" stroke-width="1.0"/>
<text x="370.8" y="302.4" font-size="7" text-anchor="middle" fill="#1a1a1a">P-1</text>
<text x="410.2" y="302.4" font-size="7" text-anchor="middle" fill="#1a1a1a">P-2</text>
<text x="449.6" y="302.4" font-size="7" text-anchor="middle" fill="#1a1a1a">SE-1</text>
<text x="489" y="302.4" font-size="7" text-anchor="middle" fill="#1a1a1a">SE-2</text>
<text x="432.7" y="185.4" font-size="7" text-anchor="middle" fill="#1a1a1a">BRD4 binding</text>
<polyline points="362.4,199.8 362.4,194 379.4,194 379.4,288.7" fill="none" stroke="#4a4a4a" stroke-width="0.85"/>
<text x="371.68" y="193.5" font-size="7.6" text-anchor="middle" font-weight="bold" fill="#1a1a1a" letter-spacing="0.95" class="S">****</text>
<polyline points="402.2,200.2 402.2,194 419.2,194 419.2,287.7" fill="none" stroke="#4a4a4a" stroke-width="0.85"/>
<text x="411.48" y="193.5" font-size="7.6" text-anchor="middle" font-weight="bold" fill="#1a1a1a" letter-spacing="0.95" class="S">****</text>
<polyline points="442.7,241 442.7,230 457.2,230 457.2,290.3" fill="none" stroke="#4a4a4a" stroke-width="0.85"/>
<text x="450.73" y="229.5" font-size="7.6" text-anchor="middle" font-weight="bold" fill="#1a1a1a" letter-spacing="0.95" class="S">**</text>
<polyline points="482.5,234.6 482.5,230.4 496.6,230.4 496.6,289.5" fill="none" stroke="#4a4a4a" stroke-width="0.85"/>
<text x="490.33" y="229.9" font-size="7.6" text-anchor="middle" font-weight="bold" fill="#1a1a1a" letter-spacing="0.95" class="S">****</text>
<rect x="472.1" y="185.3" width="10.4" height="3.2" fill="#d4d4d4" stroke="#666" stroke-width="0.8"/>
<rect x="472.1" y="196.6" width="10.4" height="3.2" fill="#2c63aa" stroke="#1b3f70" stroke-width="0.8"/>
<text x="487" y="188.6" font-size="7" fill="#1a1a1a">shScr</text>
<text x="487" y="199.9" font-size="7" fill="#1a1a1a">shNSD2-2</text>
<line x1="32" y1="447.8" x2="32" y2="344.3" stroke="#1a1a1a" stroke-width="1.1"/>
<line x1="29" y1="447.3" x2="32" y2="447.3" stroke="#1a1a1a" stroke-width="1.0"/>
<text x="28.6" y="449.4" font-size="7" text-anchor="end" fill="#1a1a1a">0.00</text>
<line x1="29" y1="421.68" x2="32" y2="421.68" stroke="#1a1a1a" stroke-width="1.0"/>
<text x="28.6" y="423.78" font-size="7" text-anchor="end" fill="#1a1a1a">0.05</text>
<line x1="29" y1="396.05" x2="32" y2="396.05" stroke="#1a1a1a" stroke-width="1.0"/>
<text x="28.6" y="398.15" font-size="7" text-anchor="end" fill="#1a1a1a">0.10</text>
<line x1="29" y1="370.43" x2="32" y2="370.43" stroke="#1a1a1a" stroke-width="1.0"/>
<text x="28.6" y="372.53" font-size="7" text-anchor="end" fill="#1a1a1a">0.15</text>
<line x1="29" y1="344.8" x2="32" y2="344.8" stroke="#1a1a1a" stroke-width="1.0"/>
<text x="28.6" y="346.9" font-size="7" text-anchor="end" fill="#1a1a1a">0.20</text>
<rect x="39.9" y="389.9" width="9.2" height="57.4" fill="#ffffff" stroke="#444" stroke-width="0.8"/>
<line x1="44.5" y1="385.03" x2="44.5" y2="394.77" stroke="#333" stroke-width="0.8"/>
<line x1="42.3" y1="385.03" x2="46.7" y2="385.03" stroke="#333" stroke-width="0.8"/>
<line x1="42.3" y1="394.77" x2="46.7" y2="394.77" stroke="#333" stroke-width="0.8"/>
<rect x="52.6" y="444.23" width="9.2" height="3.07" fill="#e01e1e" stroke="#7a1010" stroke-width="0.8"/>
<line x1="57.2" y1="443.61" x2="57.2" y2="444.84" stroke="#333" stroke-width="0.8"/>
<line x1="55" y1="443.61" x2="59.4" y2="443.61" stroke="#333" stroke-width="0.8"/>
<line x1="55" y1="444.84" x2="59.4" y2="444.84" stroke="#333" stroke-width="0.8"/>
<rect x="75.7" y="380.16" width="9.2" height="67.14" fill="#ffffff" stroke="#444" stroke-width="0.8"/>
<line x1="80.3" y1="359.15" x2="80.3" y2="401.18" stroke="#333" stroke-width="0.8"/>
<line x1="78.1" y1="359.15" x2="82.5" y2="359.15" stroke="#333" stroke-width="0.8"/>
<line x1="78.1" y1="401.18" x2="82.5" y2="401.18" stroke="#333" stroke-width="0.8"/>
<rect x="88.4" y="445.76" width="9.2" height="1.54" fill="#e01e1e" stroke="#7a1010" stroke-width="0.8"/>
<line x1="93" y1="445.35" x2="93" y2="446.17" stroke="#333" stroke-width="0.8"/>
<line x1="90.8" y1="445.35" x2="95.2" y2="445.35" stroke="#333" stroke-width="0.8"/>
<line x1="90.8" y1="446.17" x2="95.2" y2="446.17" stroke="#333" stroke-width="0.8"/>
<rect x="111.8" y="425.78" width="9.2" height="21.52" fill="#ffffff" stroke="#444" stroke-width="0.8"/>
<line x1="116.4" y1="425.37" x2="116.4" y2="426.19" stroke="#333" stroke-width="0.8"/>
<line x1="114.2" y1="425.37" x2="118.6" y2="425.37" stroke="#333" stroke-width="0.8"/>
<line x1="114.2" y1="426.19" x2="118.6" y2="426.19" stroke="#333" stroke-width="0.8"/>
<rect x="124.5" y="446.28" width="9.2" height="1.02" fill="#e01e1e" stroke="#7a1010" stroke-width="0.8"/>
<line x1="129.1" y1="446.02" x2="129.1" y2="446.53" stroke="#333" stroke-width="0.8"/>
<line x1="126.9" y1="446.02" x2="131.3" y2="446.02" stroke="#333" stroke-width="0.8"/>
<line x1="126.9" y1="446.53" x2="131.3" y2="446.53" stroke="#333" stroke-width="0.8"/>
<rect x="147.7" y="420.65" width="9.2" height="26.65" fill="#ffffff" stroke="#444" stroke-width="0.8"/>
<line x1="152.3" y1="414.24" x2="152.3" y2="427.06" stroke="#333" stroke-width="0.8"/>
<line x1="150.1" y1="414.24" x2="154.5" y2="414.24" stroke="#333" stroke-width="0.8"/>
<line x1="150.1" y1="427.06" x2="154.5" y2="427.06" stroke="#333" stroke-width="0.8"/>
<rect x="160.4" y="446.28" width="9.2" height="1.02" fill="#e01e1e" stroke="#7a1010" stroke-width="0.8"/>
<line x1="165" y1="446.02" x2="165" y2="446.53" stroke="#333" stroke-width="0.8"/>
<line x1="162.8" y1="446.02" x2="167.2" y2="446.02" stroke="#333" stroke-width="0.8"/>
<line x1="162.8" y1="446.53" x2="167.2" y2="446.53" stroke="#333" stroke-width="0.8"/>
<line x1="31.45" y1="447.3" x2="173" y2="447.3" stroke="#1a1a1a" stroke-width="1.1"/>
<line x1="50.8" y1="447.3" x2="50.8" y2="449.5" stroke="#1a1a1a" stroke-width="1.0"/>
<line x1="86.6" y1="447.3" x2="86.6" y2="449.5" stroke="#1a1a1a" stroke-width="1.0"/>
<line x1="122.7" y1="447.3" x2="122.7" y2="449.5" stroke="#1a1a1a" stroke-width="1.0"/>
<line x1="158.6" y1="447.3" x2="158.6" y2="449.5" stroke="#1a1a1a" stroke-width="1.0"/>
<text x="50.8" y="457.6" font-size="7" text-anchor="middle" fill="#1a1a1a">P-1</text>
<text x="86.6" y="457.6" font-size="7" text-anchor="middle" fill="#1a1a1a">P-2</text>
<text x="122.7" y="457.6" font-size="7" text-anchor="middle" fill="#1a1a1a">SE-1</text>
<text x="158.6" y="457.6" font-size="7" text-anchor="middle" fill="#1a1a1a">SE-2</text>
<text x="104" y="339.6" font-size="7" text-anchor="middle" fill="#1a1a1a">NSD2 binding</text>
<polyline points="44.5,377 44.5,351.3 58.2,351.3 58.2,441.2" fill="none" stroke="#4a4a4a" stroke-width="0.85"/>
<text x="52.12" y="351.8" font-size="7.6" text-anchor="middle" font-weight="bold" fill="#1a1a1a" letter-spacing="0.95" class="S">***</text>
<polyline points="79.8,355.5 79.8,351.3 93.9,351.3 93.9,441.2" fill="none" stroke="#4a4a4a" stroke-width="0.85"/>
<text x="87.62" y="351.8" font-size="7.6" text-anchor="middle" font-weight="bold" fill="#1a1a1a" letter-spacing="0.95" class="S">*</text>
<polyline points="117.5,420.6 117.5,408.1 131.2,408.1 131.2,439.4" fill="none" stroke="#4a4a4a" stroke-width="0.85"/>
<text x="125.12" y="408.6" font-size="7.6" text-anchor="middle" font-weight="bold" fill="#1a1a1a" letter-spacing="0.95" class="S">**</text>
<polyline points="152.6,414.3 152.6,408 167.2,408 167.2,438.7" fill="none" stroke="#4a4a4a" stroke-width="0.85"/>
<text x="160.67" y="408.5" font-size="7.6" text-anchor="middle" font-weight="bold" fill="#1a1a1a" letter-spacing="0.95" class="S">**</text>
<text x="3" y="396.3" font-size="8.4" text-anchor="middle" fill="#1a1a1a" transform="rotate(-90 3.0 396.3)" dy="2.9">% Input</text>
<line x1="184.4" y1="448.9" x2="184.4" y2="345.3" stroke="#1a1a1a" stroke-width="1.1"/>
<line x1="181.4" y1="448.4" x2="184.4" y2="448.4" stroke="#1a1a1a" stroke-width="1.0"/>
<text x="181" y="450.5" font-size="7" text-anchor="end" fill="#1a1a1a">0</text>
<line x1="181.4" y1="427.88" x2="184.4" y2="427.88" stroke="#1a1a1a" stroke-width="1.0"/>
<text x="181" y="429.98" font-size="7" text-anchor="end" fill="#1a1a1a">5</text>
<line x1="181.4" y1="407.36" x2="184.4" y2="407.36" stroke="#1a1a1a" stroke-width="1.0"/>
<text x="181" y="409.46" font-size="7" text-anchor="end" fill="#1a1a1a">10</text>
<line x1="181.4" y1="386.84" x2="184.4" y2="386.84" stroke="#1a1a1a" stroke-width="1.0"/>
<text x="181" y="388.94" font-size="7" text-anchor="end" fill="#1a1a1a">15</text>
<line x1="181.4" y1="366.32" x2="184.4" y2="366.32" stroke="#1a1a1a" stroke-width="1.0"/>
<text x="181" y="368.42" font-size="7" text-anchor="end" fill="#1a1a1a">20</text>
<line x1="181.4" y1="345.8" x2="184.4" y2="345.8" stroke="#1a1a1a" stroke-width="1.0"/>
<text x="181" y="347.9" font-size="7" text-anchor="end" fill="#1a1a1a">25</text>
<rect x="192.3" y="431.16" width="10" height="17.24" fill="#ffffff" stroke="#444" stroke-width="0.8"/>
<line x1="197.3" y1="426.44" x2="197.3" y2="435.88" stroke="#333" stroke-width="0.8"/>
<line x1="195.1" y1="426.44" x2="199.5" y2="426.44" stroke="#333" stroke-width="0.8"/>
<line x1="195.1" y1="435.88" x2="199.5" y2="435.88" stroke="#333" stroke-width="0.8"/>
<rect x="205.8" y="447.17" width="10" height="1.23" fill="#e01e1e" stroke="#7a1010" stroke-width="0.8"/>
<line x1="210.8" y1="446.84" x2="210.8" y2="447.5" stroke="#333" stroke-width="0.8"/>
<line x1="208.6" y1="446.84" x2="213" y2="446.84" stroke="#333" stroke-width="0.8"/>
<line x1="208.6" y1="447.5" x2="213" y2="447.5" stroke="#333" stroke-width="0.8"/>
<rect x="230.6" y="430.34" width="10" height="18.06" fill="#ffffff" stroke="#444" stroke-width="0.8"/>
<line x1="235.6" y1="423.78" x2="235.6" y2="436.91" stroke="#333" stroke-width="0.8"/>
<line x1="233.4" y1="423.78" x2="237.8" y2="423.78" stroke="#333" stroke-width="0.8"/>
<line x1="233.4" y1="436.91" x2="237.8" y2="436.91" stroke="#333" stroke-width="0.8"/>
<rect x="244.1" y="443.48" width="10" height="4.92" fill="#e01e1e" stroke="#7a1010" stroke-width="0.8"/>
<line x1="249.1" y1="442.24" x2="249.1" y2="444.71" stroke="#333" stroke-width="0.8"/>
<line x1="246.9" y1="442.24" x2="251.3" y2="442.24" stroke="#333" stroke-width="0.8"/>
<line x1="246.9" y1="444.71" x2="251.3" y2="444.71" stroke="#333" stroke-width="0.8"/>
<rect x="268.9" y="381.09" width="10" height="67.31" fill="#ffffff" stroke="#444" stroke-width="0.8"/>
<line x1="273.9" y1="363.24" x2="273.9" y2="398.95" stroke="#333" stroke-width="0.8"/>
<line x1="271.7" y1="363.24" x2="276.1" y2="363.24" stroke="#333" stroke-width="0.8"/>
<line x1="271.7" y1="398.95" x2="276.1" y2="398.95" stroke="#333" stroke-width="0.8"/>
<rect x="282.4" y="440.19" width="10" height="8.21" fill="#e01e1e" stroke="#7a1010" stroke-width="0.8"/>
<line x1="287.4" y1="437.32" x2="287.4" y2="443.06" stroke="#333" stroke-width="0.8"/>
<line x1="285.2" y1="437.32" x2="289.6" y2="437.32" stroke="#333" stroke-width="0.8"/>
<line x1="285.2" y1="443.06" x2="289.6" y2="443.06" stroke="#333" stroke-width="0.8"/>
<rect x="307.3" y="373.71" width="10" height="74.69" fill="#ffffff" stroke="#444" stroke-width="0.8"/>
<line x1="312.3" y1="362.42" x2="312.3" y2="384.99" stroke="#333" stroke-width="0.8"/>
<line x1="310.1" y1="362.42" x2="314.5" y2="362.42" stroke="#333" stroke-width="0.8"/>
<line x1="310.1" y1="384.99" x2="314.5" y2="384.99" stroke="#333" stroke-width="0.8"/>
<rect x="320.8" y="441.01" width="10" height="7.39" fill="#e01e1e" stroke="#7a1010" stroke-width="0.8"/>
<line x1="325.8" y1="437.32" x2="325.8" y2="444.71" stroke="#333" stroke-width="0.8"/>
<line x1="323.6" y1="437.32" x2="328" y2="437.32" stroke="#333" stroke-width="0.8"/>
<line x1="323.6" y1="444.71" x2="328" y2="444.71" stroke="#333" stroke-width="0.8"/>
<line x1="183.85" y1="448.4" x2="338.7" y2="448.4" stroke="#1a1a1a" stroke-width="1.1"/>
<line x1="204" y1="448.4" x2="204" y2="450.6" stroke="#1a1a1a" stroke-width="1.0"/>
<line x1="242.3" y1="448.4" x2="242.3" y2="450.6" stroke="#1a1a1a" stroke-width="1.0"/>
<line x1="280.6" y1="448.4" x2="280.6" y2="450.6" stroke="#1a1a1a" stroke-width="1.0"/>
<line x1="319" y1="448.4" x2="319" y2="450.6" stroke="#1a1a1a" stroke-width="1.0"/>
<text x="204" y="458.7" font-size="7" text-anchor="middle" fill="#1a1a1a">P-1</text>
<text x="242.3" y="458.7" font-size="7" text-anchor="middle" fill="#1a1a1a">P-2</text>
<text x="280.6" y="458.7" font-size="7" text-anchor="middle" fill="#1a1a1a">SE-1</text>
<text x="319" y="458.7" font-size="7" text-anchor="middle" fill="#1a1a1a">SE-2</text>
<text x="259.5" y="339.2" font-size="7" text-anchor="middle" fill="#1a1a1a">Abundance of H3K27ac</text>
<polyline points="196.5,424.5 196.5,418.3 211.5,418.3 211.5,443" fill="none" stroke="#4a4a4a" stroke-width="0.85"/>
<text x="204.78" y="418.8" font-size="7.6" text-anchor="middle" font-weight="bold" fill="#1a1a1a" letter-spacing="0.95" class="S">**</text>
<polyline points="234.6,421.5 234.6,418.3 249.4,418.3 249.4,439" fill="none" stroke="#4a4a4a" stroke-width="0.85"/>
<text x="242.78" y="418.8" font-size="7.6" text-anchor="middle" font-weight="bold" fill="#1a1a1a" letter-spacing="0.95" class="S">**</text>
<polyline points="273.7,360 273.7,352.2 288,352.2 288,434.5" fill="none" stroke="#4a4a4a" stroke-width="0.85"/>
<text x="281.63" y="352.7" font-size="7.6" text-anchor="middle" font-weight="bold" fill="#1a1a1a" letter-spacing="0.95" class="S">**</text>
<polyline points="311.4,359 311.4,352.2 326,352.2 326,434.5" fill="none" stroke="#4a4a4a" stroke-width="0.85"/>
<text x="319.48" y="352.7" font-size="7.6" text-anchor="middle" font-weight="bold" fill="#1a1a1a" letter-spacing="0.95" class="S">**</text>
<line x1="362.3" y1="335.8" x2="362.3" y2="399.3" stroke="#1a1a1a" stroke-width="1.1"/>
<line x1="362.3" y1="410.6" x2="362.3" y2="449.7" stroke="#1a1a1a" stroke-width="1.1"/>
<line x1="360" y1="398.2" x2="365.4" y2="403" stroke="#1a1a1a" stroke-width="1.0"/>
<line x1="360" y1="406.4" x2="365.4" y2="411.4" stroke="#1a1a1a" stroke-width="1.0"/>
<line x1="360.1" y1="336.3" x2="362.3" y2="336.3" stroke="#1a1a1a" stroke-width="1.0"/>
<text x="359.5" y="338.8" font-size="7" text-anchor="end" fill="#1a1a1a">2.0</text>
<line x1="360.1" y1="368.45" x2="362.3" y2="368.45" stroke="#1a1a1a" stroke-width="1.0"/>
<text x="359.5" y="370.95" font-size="7" text-anchor="end" fill="#1a1a1a">1.5</text>
<line x1="360.1" y1="429.4" x2="362.3" y2="429.4" stroke="#1a1a1a" stroke-width="1.0"/>
<text x="359.5" y="431.9" font-size="7" text-anchor="end" fill="#1a1a1a">0.05</text>
<line x1="360.1" y1="449.2" x2="362.3" y2="449.2" stroke="#1a1a1a" stroke-width="1.0"/>
<text x="359.5" y="451.7" font-size="7" text-anchor="end" fill="#1a1a1a">0.00</text>
<text x="358.6" y="402.9" font-size="7" text-anchor="end" fill="#1a1a1a">1.0</text>
<text x="358.6" y="411.6" font-size="7" text-anchor="end" fill="#1a1a1a">0.10</text>
<rect x="370" y="385.81" width="9.1" height="63.39" fill="#fff"/>
<polyline points="370,399.6 370,385.81 379.1,385.81 379.1,399.6" fill="none" stroke="#444" stroke-width="0.9"/>
<line x1="370" y1="409.2" x2="370" y2="449.2" stroke="#444" stroke-width="0.9"/>
<line x1="379.1" y1="409.2" x2="379.1" y2="449.2" stroke="#444" stroke-width="0.9"/>
<line x1="374.55" y1="377.13" x2="374.55" y2="394.49" stroke="#444" stroke-width="0.8"/>
<line x1="372.25" y1="377.13" x2="376.85" y2="377.13" stroke="#444" stroke-width="0.8"/>
<line x1="372.25" y1="394.49" x2="376.85" y2="394.49" stroke="#444" stroke-width="0.8"/>
<rect x="383.1" y="445.4" width="8.2" height="3.8" fill="#e01e1e" stroke="#7a1010" stroke-width="0.8"/>
<rect x="405" y="371.02" width="9.1" height="78.18" fill="#fff"/>
<polyline points="405,399.6 405,371.02 414.1,371.02 414.1,399.6" fill="none" stroke="#444" stroke-width="0.9"/>
<line x1="405" y1="409.2" x2="405" y2="449.2" stroke="#444" stroke-width="0.9"/>
<line x1="414.1" y1="409.2" x2="414.1" y2="449.2" stroke="#444" stroke-width="0.9"/>
<line x1="409.55" y1="355.91" x2="409.55" y2="386.13" stroke="#444" stroke-width="0.8"/>
<line x1="407.25" y1="355.91" x2="411.85" y2="355.91" stroke="#444" stroke-width="0.8"/>
<line x1="407.25" y1="386.13" x2="411.85" y2="386.13" stroke="#444" stroke-width="0.8"/>
<rect x="418.1" y="445.24" width="8.2" height="3.96" fill="#e01e1e" stroke="#7a1010" stroke-width="0.8"/>
<line x1="422.2" y1="441.87" x2="422.2" y2="445.24" stroke="#444" stroke-width="0.8"/>
<line x1="420" y1="441.87" x2="424.4" y2="441.87" stroke="#444" stroke-width="0.8"/>
<rect x="439" y="387.1" width="9.1" height="62.1" fill="#fff"/>
<polyline points="439,399.6 439,387.1 448.1,387.1 448.1,399.6" fill="none" stroke="#444" stroke-width="0.9"/>
<line x1="439" y1="409.2" x2="439" y2="449.2" stroke="#444" stroke-width="0.9"/>
<line x1="448.1" y1="409.2" x2="448.1" y2="449.2" stroke="#444" stroke-width="0.9"/>
<line x1="443.55" y1="374.88" x2="443.55" y2="399.1" stroke="#444" stroke-width="0.8"/>
<line x1="441.25" y1="374.88" x2="445.85" y2="374.88" stroke="#444" stroke-width="0.8"/>
<line x1="441.25" y1="399.1" x2="445.85" y2="399.1" stroke="#444" stroke-width="0.8"/>
<rect x="452.1" y="437.72" width="8.2" height="11.48" fill="#e01e1e" stroke="#7a1010" stroke-width="0.8"/>
<line x1="456.2" y1="433.36" x2="456.2" y2="437.72" stroke="#444" stroke-width="0.8"/>
<line x1="454" y1="433.36" x2="458.4" y2="433.36" stroke="#444" stroke-width="0.8"/>
<rect x="474" y="395.01" width="9.1" height="54.19" fill="#fff"/>
<polyline points="474,399.6 474,395.01 483.1,395.01 483.1,399.6" fill="none" stroke="#444" stroke-width="0.9"/>
<line x1="474" y1="409.2" x2="474" y2="449.2" stroke="#444" stroke-width="0.9"/>
<line x1="483.1" y1="409.2" x2="483.1" y2="449.2" stroke="#444" stroke-width="0.9"/>
<line x1="478.55" y1="390.5" x2="478.55" y2="399.1" stroke="#444" stroke-width="0.8"/>
<line x1="476.25" y1="390.5" x2="480.85" y2="390.5" stroke="#444" stroke-width="0.8"/>
<line x1="476.25" y1="399.1" x2="480.85" y2="399.1" stroke="#444" stroke-width="0.8"/>
<rect x="487.1" y="445.83" width="8.2" height="3.37" fill="#e01e1e" stroke="#7a1010" stroke-width="0.8"/>
<line x1="361.75" y1="449.2" x2="497.9" y2="449.2" stroke="#1a1a1a" stroke-width="1.1"/>
<line x1="381" y1="449.2" x2="381" y2="451.4" stroke="#1a1a1a" stroke-width="1.0"/>
<text x="381" y="459.5" font-size="7" text-anchor="middle" fill="#1a1a1a">P-1</text>
<line x1="416" y1="449.2" x2="416" y2="451.4" stroke="#1a1a1a" stroke-width="1.0"/>
<text x="416" y="459.5" font-size="7" text-anchor="middle" fill="#1a1a1a">P-2</text>
<line x1="450" y1="449.2" x2="450" y2="451.4" stroke="#1a1a1a" stroke-width="1.0"/>
<text x="450" y="459.5" font-size="7" text-anchor="middle" fill="#1a1a1a">SE-1</text>
<line x1="485" y1="449.2" x2="485" y2="451.4" stroke="#1a1a1a" stroke-width="1.0"/>
<text x="485" y="459.5" font-size="7" text-anchor="middle" fill="#1a1a1a">SE-2</text>
<polyline points="374.9,367.6 374.9,350.5 387.5,350.5 387.5,418.4" fill="none" stroke="#4a4a4a" stroke-width="0.85"/>
<text x="381.98" y="350.9" font-size="7.6" text-anchor="middle" fill="#1a1a1a" font-weight="bold" letter-spacing="0.95" class="S">***</text>
<polyline points="409.2,353.6 409.2,350.5 421.8,350.5 421.8,418.4" fill="none" stroke="#4a4a4a" stroke-width="0.85"/>
<text x="416.28" y="350.9" font-size="7.6" text-anchor="middle" fill="#1a1a1a" font-weight="bold" letter-spacing="0.95" class="S">***</text>
<polyline points="446.3,369.6 446.3,351.2 459.6,351.2 459.6,418.4" fill="none" stroke="#4a4a4a" stroke-width="0.85"/>
<text x="453.73" y="351.6" font-size="7.6" text-anchor="middle" fill="#1a1a1a" font-weight="bold" letter-spacing="0.95" class="S">***</text>
<polyline points="479.6,378.6 479.6,351.5 493.1,351.5 493.1,439.6" fill="none" stroke="#4a4a4a" stroke-width="0.85"/>
<text x="487.13" y="351.9" font-size="7.6" text-anchor="middle" fill="#1a1a1a" font-weight="bold" letter-spacing="0.95" class="S">***</text>
<text x="425.2" y="339.1" font-size="7.2" text-anchor="middle" fill="#1a1a1a">BRD4&#160; binding</text>
<rect x="469.9" y="317.9" width="11.6" height="3.6" fill="#fff" stroke="#666" stroke-width="0.9"/>
<rect x="469.9" y="330.2" width="11.6" height="3.6" fill="#d41414" stroke="#6a0c0c" stroke-width="0.9"/>
<text x="487.1" y="324.1" font-size="7" fill="#1a1a1a">KMS11<tspan font-size="4.6" dy="-3.2">PAR</tspan></text>
<text x="487.1" y="335.6" font-size="7" fill="#1a1a1a">KMS11<tspan font-size="4.6" dy="-3.2">TKO</tspan></text>
</svg></body></html>
